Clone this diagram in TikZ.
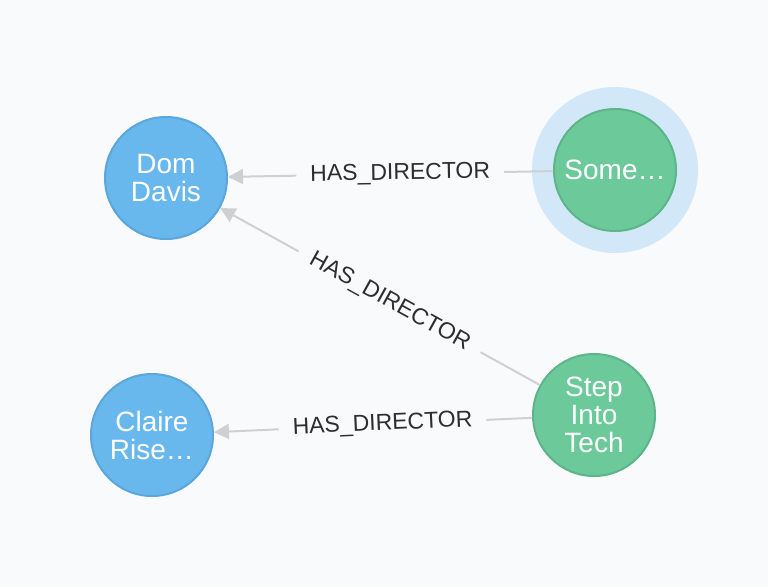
\documentclass[tikz,border=0pt]{standalone}
\usepackage{fontspec}
\setmainfont{Liberation Sans}
\usetikzlibrary{arrows.meta}
\definecolor{bgcol}{HTML}{F8FAFC}
\definecolor{personfill}{HTML}{68B8EE}
\definecolor{persondraw}{HTML}{5AA6DD}
\definecolor{moviefill}{HTML}{6CC99A}
\definecolor{moviedraw}{HTML}{5DB58A}
\definecolor{halocol}{HTML}{D2E8F9}
\definecolor{relcol}{HTML}{D0D0D0}
\definecolor{labelcol}{HTML}{2E2E2E}

\begin{document}
\begin{tikzpicture}[x=1pt,y=-1pt,
    person/.style={circle, draw=persondraw, fill=personfill, line width=2pt,
        minimum size=122pt, inner sep=0pt, text=white, align=center,
        font=\fontsize{28}{28}\selectfont},
    movie/.style={person, draw=moviedraw, fill=moviefill},
    rel/.style={draw=relcol, line width=2pt,
        -{Triangle[length=15pt,width=15pt]}},
    rellabel/.style={fill=bgcol, text=labelcol, inner xsep=14pt, inner ysep=2pt,
        font=\fontsize{23}{23}\selectfont, sloped, pos=0.47}]
    \fill[bgcol] (0,0) rectangle (768,587);
    \useasboundingbox (0,0) rectangle (768,587);
    % nodes
    \fill[halocol] (615,170) circle (83);
    \node[person] (dom) at (166,178) {Dom\\Davis};
    \node[person] (claire) at (152,435) {Claire\\Rise…};
    \node[movie] (some) at (615,170) {Some…};
    \node[movie] (step) at (594,415) {Step\\Into\\Tech};
    % relationships
    \draw[rel] (some) -- node[rellabel] {HAS\_DIRECTOR} (dom);
    \draw[rel] (step) -- node[rellabel] {HAS\_DIRECTOR} (dom);
    \draw[rel] (step) -- node[rellabel] {HAS\_DIRECTOR} (claire);
\end{tikzpicture}
\end{document}
